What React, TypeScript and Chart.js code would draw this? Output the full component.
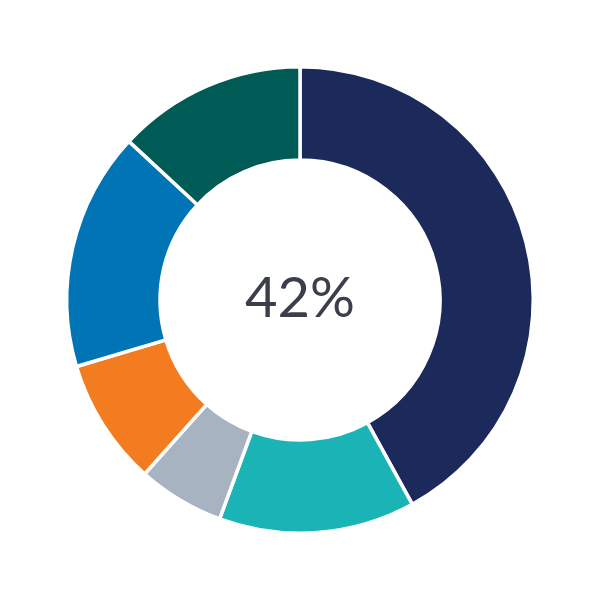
import React, { useEffect, useRef } from "react";
import { Chart, registerables } from "chart.js";

Chart.register(...registerables);

const labels = ["Navy", "Teal", "Gray", "Orange", "Blue", "Green"];
const values = [42, 13.6, 6, 8.8, 16.5, 13.1];
const colors = ["#1b2a5b", "#1ab4b6", "#a8b3c2", "#f47c20", "#0074b4", "#005a56"];
const centerLabel = "42%";

const App = () => {
  const canvasRef = useRef<HTMLCanvasElement | null>(null);

  useEffect(() => {
    const ctx = canvasRef.current?.getContext("2d");
    if (!ctx) return;
    const chart = new Chart(ctx, {
      type: "doughnut",
      data: {
        labels: labels,
        datasets: [
          {
            data: values,
            backgroundColor: colors,
            borderColor: "#ffffff",
            borderWidth: 3.5,
          },
        ],
      },
      options: {
        animation: false,
        responsive: true,
        maintainAspectRatio: false,
        cutout: "60%",
        layout: { padding: 57 },
        plugins: {
          legend: { display: false },
          tooltip: { enabled: false },
        },
      },
    });
    return () => {
      chart.destroy();
    };
  }, []);

  return (
    <div style={{ position: "relative", width: 584, height: 584 }}>
      <canvas ref={canvasRef} />
      <div
        style={{
          position: "absolute",
          left: 0,
          right: 0,
          top: -10,
          bottom: 0,
          display: "flex",
          alignItems: "center",
          justifyContent: "center",
          fontFamily: "Lato, sans-serif",
          fontSize: 56,
          color: "#3a3f4b",
          pointerEvents: "none",
        }}
      >
        {centerLabel}
      </div>
    </div>
  );
};

export default App;
